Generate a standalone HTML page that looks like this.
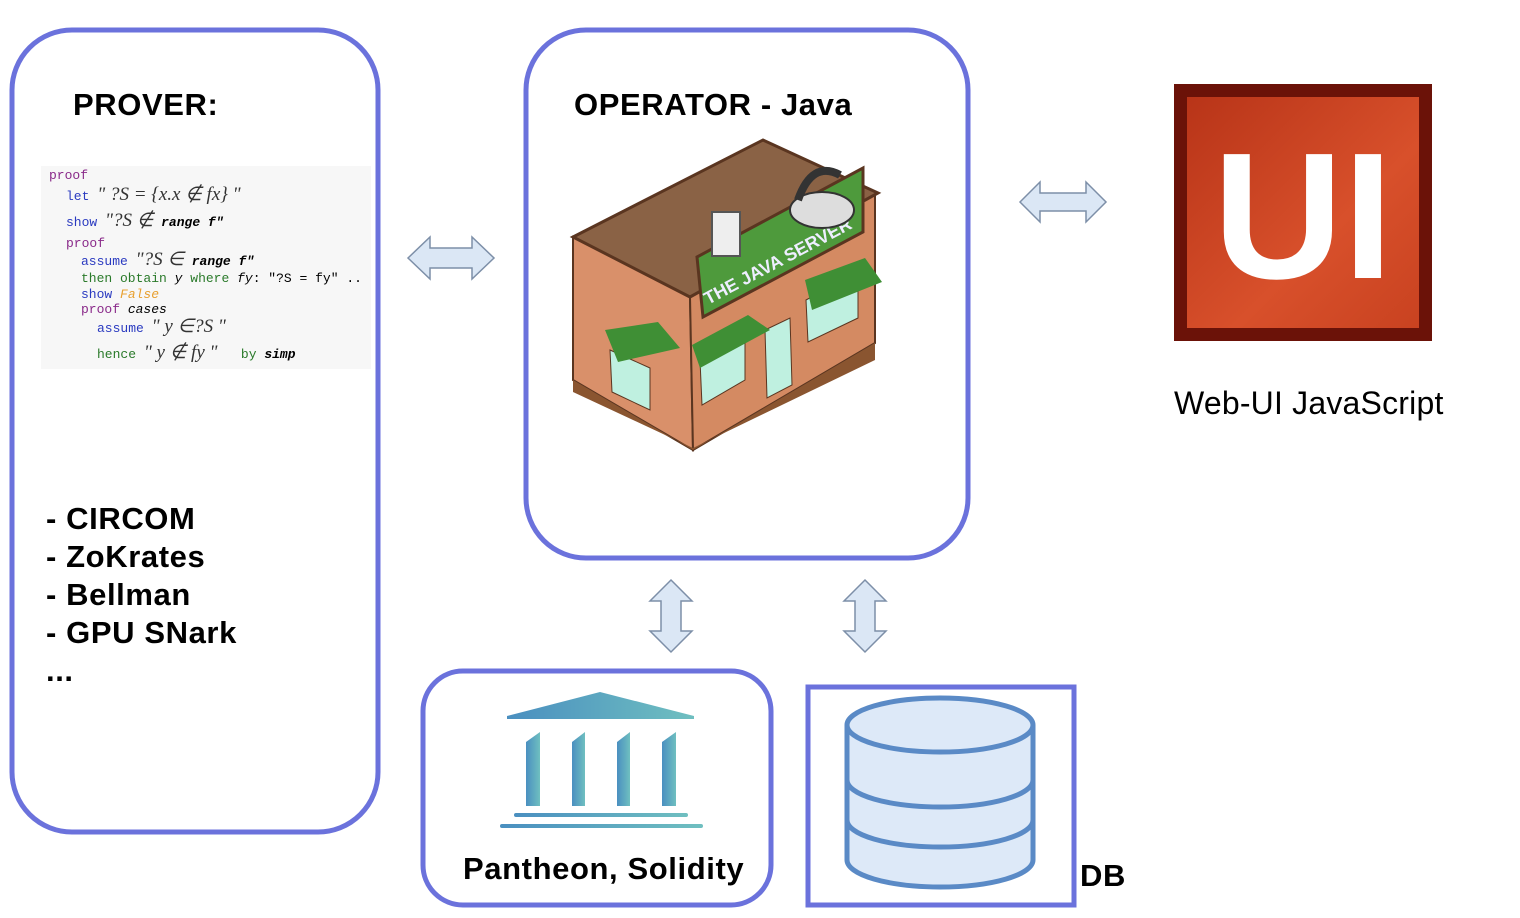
<!DOCTYPE html>
<html><head><meta charset="utf-8"><style>
body{margin:0;width:1520px;height:918px;background:#fff;overflow:hidden;position:relative;font-family:"Liberation Sans",sans-serif}
.t{position:absolute;white-space:nowrap}
.b{font-weight:bold;color:#000;letter-spacing:0.6px}
.code{position:absolute;left:41px;top:166px;width:330px;height:203px;background:#f7f7f7;font-family:"Liberation Mono",monospace;font-size:13px;line-height:17px}
.code div{position:absolute;white-space:nowrap}
.m{font-family:"Liberation Serif",serif;font-style:italic;font-size:19px;color:#333}
</style></head><body>
<svg width="1520" height="918" style="position:absolute;left:0;top:0">
<defs><linearGradient id="pg" x1="0" x2="1"><stop offset="0" stop-color="#4a8fc0"/><stop offset="1" stop-color="#6fbfc0"/></linearGradient>
<linearGradient id="ui" x1="0" y1="0" x2="1" y2="1"><stop offset="0" stop-color="#b83418"/><stop offset="0.6" stop-color="#d8502b"/><stop offset="1" stop-color="#c94220"/></linearGradient></defs>
<rect x="12" y="30" width="366" height="802" rx="60" fill="none" stroke="#6b72dc" stroke-width="5"/>
<rect x="526" y="30" width="442" height="528" rx="60" fill="none" stroke="#6b72dc" stroke-width="5"/>
<rect x="423" y="671" width="348" height="234" rx="40" fill="none" stroke="#6b72dc" stroke-width="5"/>
<rect x="808" y="687" width="266" height="218" fill="none" stroke="#6b72dc" stroke-width="5"/>
<g fill="#dbe7f5" stroke="#7d8fa8" stroke-width="1.5">
<polygon points="408,258 430,237 430,248 472,248 472,237 494,258 472,279 472,268 430,268 430,279"/>
<polygon points="1020,202 1040,182 1040,193 1086,193 1086,182 1106,202 1086,222 1086,211 1040,211 1040,222"/>
<polygon points="671,580 692,601 681,601 681,631 692,631 671,652 650,631 661,631 661,601 650,601"/>
<polygon points="865,580 886,601 875,601 875,631 886,631 865,652 844,631 855,631 855,601 844,601"/>
</g>
<polygon points="573,237 690,297 693,450 573,380" fill="#d9906a" stroke="#5a3520" stroke-width="2"/>
<polygon points="690,297 875,193 875,343 693,450" fill="#d48a62" stroke="#5a3520" stroke-width="2"/>
<polygon points="573,380 693,450 875,343 875,360 693,448 573,392" fill="#8a5530"/>
<polygon points="573,237 763,140 878,193 690,297" fill="#8a6245" stroke="#5a3520" stroke-width="3"/>
<polygon points="697,257 863,168 863,232 703,317" fill="#4e9a3c" stroke="#5a3520" stroke-width="3"/>
<text x="708" y="305" transform="rotate(-28 708 305)" font-family="Liberation Sans" font-weight="bold" font-size="18" fill="#eef">THE JAVA SERVER</text>
<rect x="712" y="212" width="28" height="44" fill="#eee" stroke="#555" stroke-width="2"/>
<ellipse cx="822" cy="210" rx="32" ry="18" fill="#ddd" stroke="#333" stroke-width="2"/>
<path d="M798 200 Q812 160 840 175" stroke="#333" stroke-width="8" fill="none"/>
<polygon points="610,350 650,368 650,410 612,392" fill="#bff0e0" stroke="#5a3520"/>
<polygon points="700,360 745,336 745,380 702,405" fill="#bff0e0" stroke="#5a3520"/>
<polygon points="806,300 858,272 858,318 808,342" fill="#bff0e0" stroke="#5a3520"/>
<polygon points="765,330 790,318 792,385 767,398" fill="#bff0e0" stroke="#5a3520"/>
<polygon points="605,330 658,322 680,348 618,362" fill="#3f8f35"/>
<polygon points="692,345 748,315 770,330 700,368" fill="#3f8f35"/>
<polygon points="805,280 865,258 882,282 812,310" fill="#3f8f35"/>
<rect x="1174" y="84" width="258" height="257" fill="#6b1208"/>
<rect x="1187" y="97" width="232" height="231" fill="url(#ui)"/>
<text x="1303" y="278" text-anchor="middle" font-family="Liberation Sans" font-weight="bold" font-size="180" fill="#fff">UI</text>
<polygon points="507,716 600,692 694,716 694,719 507,719" fill="url(#pg)"/>
<polygon points="526,742 540,732 540,806 526,806" fill="url(#pg)"/>
<polygon points="572,742 585,732 585,806 572,806" fill="url(#pg)"/>
<polygon points="617,742 630,732 630,806 617,806" fill="url(#pg)"/>
<polygon points="662,742 676,732 676,806 662,806" fill="url(#pg)"/>
<rect x="514" y="813" width="174" height="4" rx="2" fill="url(#pg)"/>
<rect x="500" y="824" width="203" height="4" rx="2" fill="url(#pg)"/>
<g fill="#dde9f8" stroke="#5a8ac6" stroke-width="5">
<path d="M847 725 V860 A93 27 0 0 0 1033 860 V725"/>
<ellipse cx="940" cy="725" rx="93" ry="27"/>
<path d="M847 780 A93 27 0 0 0 1033 780" fill="none"/>
<path d="M847 820 A93 27 0 0 0 1033 820" fill="none"/>
</g>
</svg>
<div class="t b" style="left:73px;top:87px;font-size:31px">PROVER:</div>
<div class="t b" style="left:574px;top:87px;font-size:31px">OPERATOR - Java</div>
<div class="t" style="left:1174px;top:385px;font-size:32px;letter-spacing:0.2px">Web-UI JavaScript</div>
<div class="t b" style="left:46px;top:500px;font-size:31px;line-height:38px">- CIRCOM<br>- ZoKrates<br>- Bellman<br>- GPU SNark<br>...</div>
<div class="t b" style="left:463px;top:851px;font-size:31px">Pantheon, Solidity</div>
<div class="t b" style="left:1080px;top:858px;font-size:31px">DB</div>
<div class="code">
<div style="left:8px;top:1px;color:#8a2a8a">proof</div>
<div style="left:25px;top:20px"><span style="color:#2a3ac0">let</span> <span class="m">" ?S = {x.x ∉ fx} "</span></div>
<div style="left:25px;top:46px"><span style="color:#2a3ac0">show</span> <span class="m">"?S ∉</span> <i><b>range f"</b></i></div>
<div style="left:25px;top:69px;color:#8a2a8a">proof</div>
<div style="left:40px;top:85px"><span style="color:#2a3ac0">assume</span> <span class="m">"?S ∈</span> <i><b>range f"</b></i></div>
<div style="left:40px;top:104px"><span style="color:#2a7a2a">then obtain</span> <i>y</i> <span style="color:#2a7a2a">where</span> <i>fy</i>: "?S = fy" ..</div>
<div style="left:40px;top:120px"><span style="color:#2a3ac0">show</span> <i style="color:#e8a030">False</i></div>
<div style="left:40px;top:135px"><span style="color:#8a2a8a">proof</span> <i>cases</i></div>
<div style="left:56px;top:152px"><span style="color:#2a3ac0">assume</span> <span class="m">" y ∈?S "</span></div>
<div style="left:56px;top:178px"><span style="color:#2a7a2a">hence</span> <span class="m">" y ∉ fy "</span> &nbsp; <span style="color:#2a7a2a">by</span> <i><b>simp</b></i></div>
</div>
</body></html>
